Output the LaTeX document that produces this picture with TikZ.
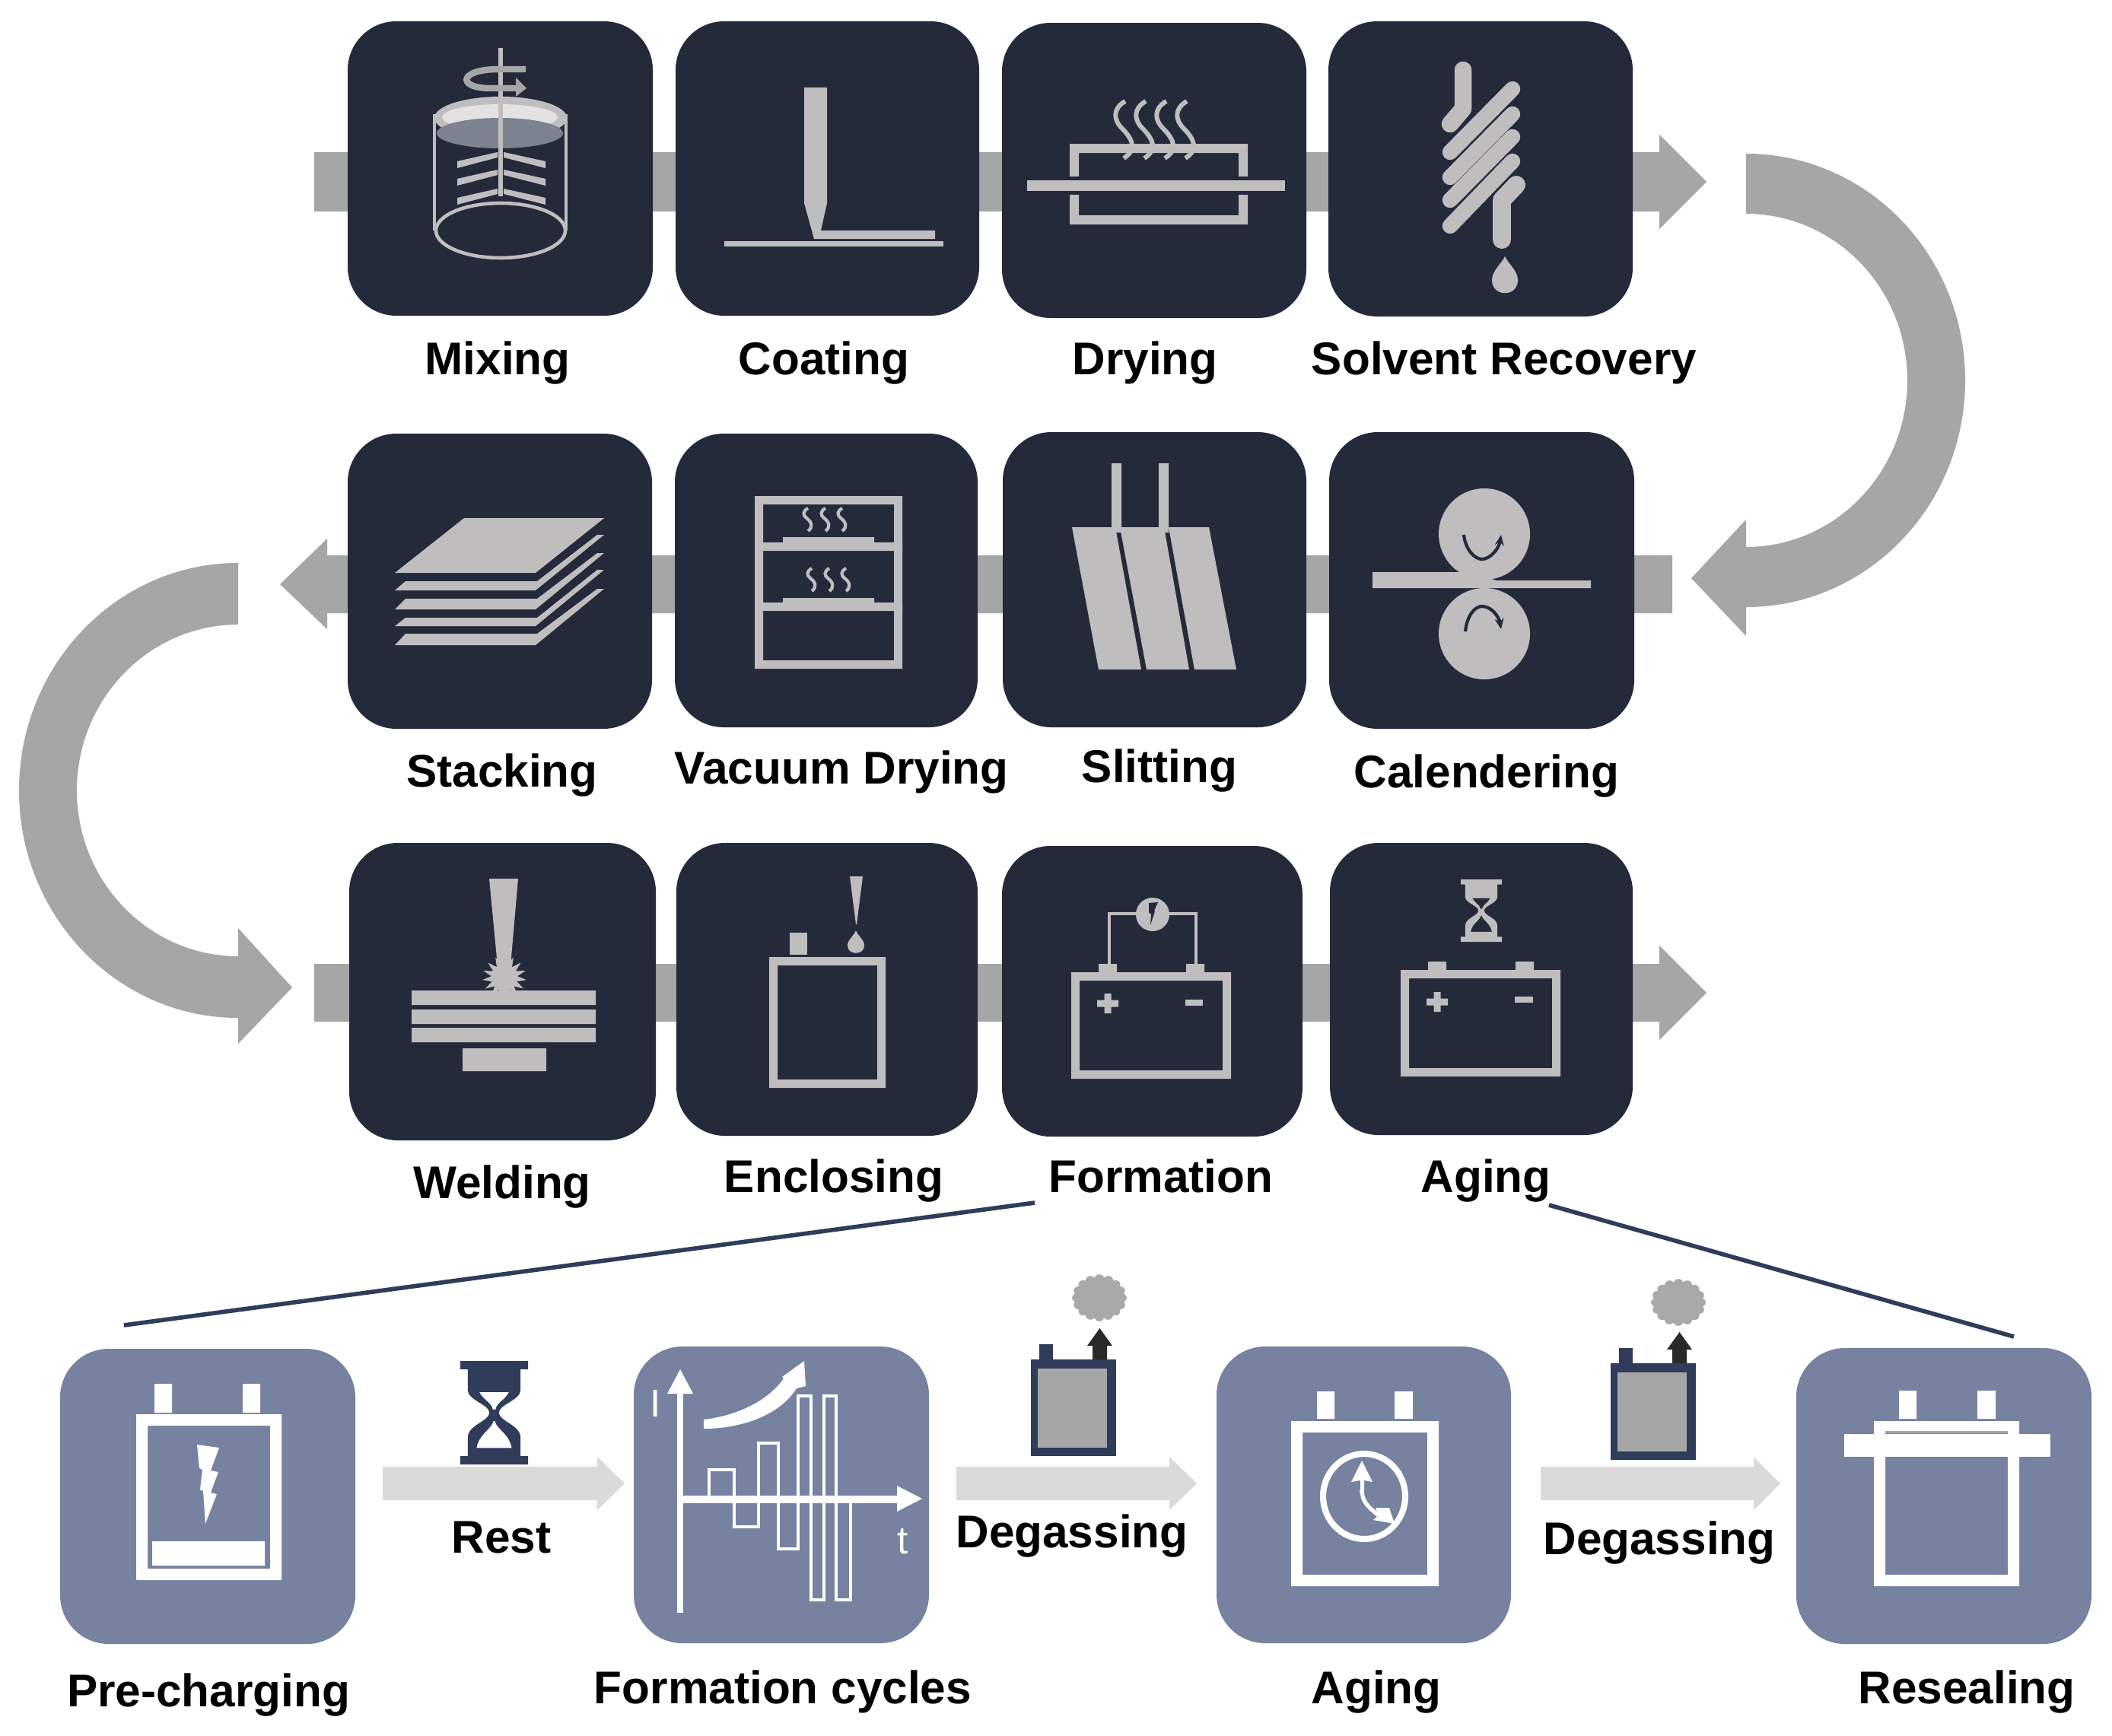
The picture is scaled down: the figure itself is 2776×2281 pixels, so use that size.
\documentclass[tikz,border=0pt]{standalone}
\usepackage{fontspec}
\setmainfont{Liberation Sans}
\usetikzlibrary{arrows.meta,shapes.geometric,shapes.symbols}
\definecolor{tiled}{HTML}{252A3B}
\definecolor{tilel}{HTML}{76829F}
\definecolor{icong}{HTML}{C0BDBE}
\definecolor{bandg}{HTML}{A6A6A6}
\definecolor{lightb}{HTML}{DADADA}
\definecolor{navy}{HTML}{2F3C5A}
\definecolor{smoke}{HTML}{A9A9A9}
\definecolor{blk}{HTML}{2A2A2A}
\definecolor{liquid}{HTML}{7D828F}
\newcommand{\tilebox}[6]{%
  \pgfmathsetmacro\tw{(#5-#3)*0.01}\pgfmathsetmacro\th{(#6-#4)*0.01}%
  \node[tilebase,fill=#2,minimum width=\tw cm,minimum height=\th cm] (#1) at ({(#3+#5)/2},{(#4+#6)/2}) {};}
\newcommand{\frect}[6]{% colour x1 y1 x2 y2 thick
  \fill[#1,even odd rule] (#2,#3) rectangle (#4,#5) ({#2+#6},{#3+#6}) rectangle ({#4-#6},{#5-#6});}
\newcommand{\hglass}[5]{% x y sx sy colour
  \begin{scope}[shift={(#1,#2)},xscale=#3,yscale=#4]
  \fill[#5,even odd rule] (0,0)--(100,0)--(100,8)--(89,8)--(89,28) .. controls (89,38) and (57,42) .. (57,50) .. controls (57,58) and (89,62) .. (89,74) --(89,92)--(100,92)--(100,100)--(0,100)--(0,92)--(11,92)--(11,74) .. controls (11,62) and (43,58) .. (43,50) .. controls (43,42) and (11,38) .. (11,28) --(11,8)--(0,8)--cycle
   (28,30)--(72,30) .. controls (66,38) and (54,40) .. (52,47) -- (48,47) .. controls (46,40) and (34,38) .. (28,30) -- cycle
   (49,58)--(51,58) .. controls (54,66) and (72,70) .. (76,84) -- (24,84) .. controls (28,70) and (46,66) .. (49,58) -- cycle;
  \end{scope}}
\newcommand{\plusm}[3]{\fill[#3] ({#1-14},{#2-4.5}) rectangle ({#1+14},{#2+4.5}) ({#1-4.5},{#2-13}) rectangle ({#1+4.5},{#2+13});}
\tikzset{
  tilebase/.style={rounded corners=0.64cm,inner sep=0pt,outer sep=0pt,draw=none},
  lab/.style={anchor=base,inner sep=0pt,font=\fontsize{17.15}{20}\selectfont\bfseries,text=black},
  axislab/.style={anchor=base,inner sep=0pt,font=\fontsize{14.5}{16}\selectfont,text=white},
  conn/.style={draw=navy,line width=1.6pt},
  puff/.style={cloud,cloud puffs=16,cloud puff arc=140,fill=smoke,draw=none,inner sep=0pt,minimum width=0.72cm,minimum height=0.62cm,aspect=1},
  wav/.style={draw=icong,line width=1.5pt},
}
\begin{document}
\begin{tikzpicture}[x=0.01cm,y=-0.01cm]
\useasboundingbox (0,0) rectangle (2776,2281);
\fill[white] (0,0) rectangle (2776,2281);
% bands
\fill[bandg] (413,200)--(2181,200)--(2181,177)--(2243,239)--(2181,301)--(2181,278)--(413,278)--cycle;
\fill[bandg] (2198,730)--(430,730)--(430,708)--(368,768)--(430,827)--(430,806)--(2198,806)--cycle;
\fill[bandg] (413,1267)--(2181,1267)--(2181,1243)--(2243,1305)--(2181,1367)--(2181,1343)--(413,1343)--cycle;
% curved arrows
\fill[bandg] (2295,202) .. controls (2454,202) and (2583,335) .. (2583,500) .. controls (2583,665) and (2454,798) .. (2295,798) -- (2295,836) -- (2223,760) -- (2295,683) -- (2295,719) .. controls (2412,719) and (2507,621) .. (2507,500) .. controls (2507,379) and (2412,281) .. (2295,281) -- cycle;
\fill[bandg] (313,740) .. controls (154,740) and (25,874) .. (25,1039) .. controls (25,1204) and (154,1338) .. (313,1338) -- (313,1372) -- (384,1298) -- (313,1220) -- (313,1257) .. controls (196,1257) and (101,1159) .. (101,1039) .. controls (101,919) and (196,821) .. (313,821) -- cycle;
% light arrows
\foreach \a/\b/\c in {503/785/821,1257/1537/1573,2025/2305/2340}{
  \fill[lightb] (\a,1928)--(\b,1928)--(\b,1915)--(\c,1950)--(\b,1985)--(\b,1972)--(\a,1972)--cycle;}
% tiles
\tilebox{tmix}{tiled}{457}{28}{858}{415}
\tilebox{tcoat}{tiled}{888}{28}{1287}{415}
\tilebox{tdry}{tiled}{1317}{30}{1717}{418}
\tilebox{tsolv}{tiled}{1746}{28}{2146}{416}
\tilebox{tstack}{tiled}{457}{570}{857}{958}
\tilebox{tvac}{tiled}{887}{570}{1285}{956}
\tilebox{tslit}{tiled}{1318}{568}{1717}{956}
\tilebox{tcal}{tiled}{1747}{568}{2148}{958}
\tilebox{tweld}{tiled}{459}{1108}{862}{1499}
\tilebox{tencl}{tiled}{889}{1108}{1285}{1493}
\tilebox{tform}{tiled}{1317}{1112}{1712}{1494}
\tilebox{tage}{tiled}{1748}{1108}{2146}{1492}
\tilebox{tpre}{tilel}{79}{1773}{467}{2161}
\tilebox{tcyc}{tilel}{833}{1770}{1221}{2160}
\tilebox{tage2}{tilel}{1599}{1770}{1986}{2160}
\tilebox{tres}{tilel}{2361}{1772}{2749}{2161}
% Mixing icon
\draw[icong,line width=1.2pt] (571,150)--(571,303) (744,150)--(744,303);
\draw[icong,line width=1.3pt] (658,303) ellipse [x radius=85,y radius=36];
\fill[icong] (658,155) ellipse [x radius=87,y radius=28];
\fill[white!55!icong] (657,154) ellipse [x radius=76,y radius=17];
\fill[liquid] (657,175) ellipse [x radius=83,y radius=20];
\fill[icong] (655,63) rectangle (661,258);
\foreach \d in {0,23,48}{
  \fill[icong,shift={(0,\d)}] (654,200)--(601,212)--(601,221)--(654,207)--cycle;
  \fill[icong,shift={(0,\d)}] (662,200)--(717,212)--(717,221)--(662,207)--cycle;}
\draw[bandg,line width=2.4pt] (691,91)--(655,91) .. controls (605,91) and (600,114) .. (640,116) -- (682,116);
\fill[bandg] (678,102)--(692,116)--(678,127)--cycle;
% Coating icon
\fill[icong] (1057,115)--(1087,115)--(1087,267)--(1079,303)--(1229,303)--(1229,314)--(1070,314)--(1057,267)--cycle;
\fill[icong] (952,317) rectangle (1240,324);
% Drying icon
\frect{icong}{1406}{189}{1640}{295}{12}
\fill[tiled] (1400,232) rectangle (1646,256);
\fill[icong] (1350,237) rectangle (1689,251);
\foreach \d in {0,27,54,81}{
  \draw[icong,line width=1.7pt,shift={(\d,0)}] (1479,133) .. controls (1462,143) and (1463,158) .. (1476,170) .. controls (1490,185) and (1494,197) .. (1477,208);}
% Solvent icon
\draw[icong,line width=6.4pt,line cap=round,line join=round] (1923,92)--(1923,143)--(1906,163);
\foreach \a/\b in {117/200,150/233,180/263,212/297}{
  \draw[icong,line width=5.8pt,line cap=round] (1988,\a)--(1906,\b);}
\draw[icong,line width=6.8pt,line cap=round,line join=round] (1993,243)--(1974,263)--(1974,315);
\fill[icong] (1978,337) .. controls (1982,346) and (1995,356) .. (1995,368) .. controls (1995,391) and (1961,391) .. (1961,368) .. controls (1961,356) and (1974,346) .. (1978,337) -- cycle;
% Stacking icon
\fill[icong] (610,681)--(794,681)--(704,753)--(519,753)--cycle;
\foreach \a/\b/\c in {776/764/703,801/787/727,823/812/749,848/833/774}{
  \fill[icong] (519,\a)--(533,\b)--(706,\b)--(785,\c)--(794,\c)--(704,\a)--cycle;}
% Vacuum icon
\frect{icong}{992}{652}{1186}{879}{11}
\fill[icong] (992,713) rectangle (1186,724) (992,792) rectangle (1186,803) (1029,706) rectangle (1149,713) (1029,786) rectangle (1149,792);
\foreach \d in {0,23,45}{
  \draw[wav,line width=1.2pt,shift={(\d,0)}] (1062,668) .. controls (1055,672) and (1055,677) .. (1060,681) .. controls (1067,686) and (1069,693) .. (1062,698);
  \draw[wav,line width=1.2pt,shift={(\d+5,79)}] (1062,668) .. controls (1055,672) and (1055,677) .. (1060,681) .. controls (1067,686) and (1069,693) .. (1062,698);}
% Slitting icon
\fill[icong] (1461,609) rectangle (1474,700) (1523,609) rectangle (1536,700);
\fill[icong] (1409,693)--(1466,693)--(1500,880)--(1444,880)--cycle;
\fill[icong] (1472,693)--(1530,693)--(1563,880)--(1507,880)--cycle;
\fill[icong] (1536,693)--(1589,693)--(1625,880)--(1570,880)--cycle;
% Calendering icon
\fill[icong] (1951,702) circle [radius=60];
\fill[icong] (1951,833) circle [radius=60];
\fill[icong] (1804,752)--(1930,752)--(1967,763)--(2091,763)--(2091,773)--(1804,773)--cycle;
\draw[tiled,line width=1.2pt,-{Stealth[length=4pt,width=3.4pt]}] (1924,703) .. controls (1926,722) and (1938,735) .. (1948,735) .. controls (1958,735) and (1970,722) .. (1973,703);
\draw[tiled,line width=1.2pt,-{Stealth[length=4pt,width=3.4pt]}] (1926,830) .. controls (1928,810) and (1938,797) .. (1948,797) .. controls (1960,797) and (1970,810) .. (1973,827);
% Welding icon
\fill[icong] (541,1302) rectangle (783,1321) (541,1327) rectangle (783,1346) (541,1351) rectangle (783,1370) (608,1378) rectangle (718,1408);
\node[star,star points=15,star point ratio=1.7,fill=icong,inner sep=0pt,minimum size=0.58cm] (burst) at (663,1285) {};
\fill[icong] (643,1155)--(681,1155)--(671,1270)--(654,1270)--cycle;
% Enclosing icon
\frect{icong}{1011}{1258}{1164}{1430}{11}
\fill[icong] (1038,1226) rectangle (1061,1255);
\fill[icong] (1117,1152)--(1134,1152)--(1126,1215)--(1125,1215)--cycle;
\fill[icong] (1125,1223) .. controls (1128,1231) and (1136,1235) .. (1136,1243) .. controls (1136,1256) and (1114,1256) .. (1114,1243) .. controls (1114,1235) and (1122,1231) .. (1125,1223) -- cycle;
% Formation icon
\frect{icong}{1408}{1278}{1618}{1418}{11}
\fill[icong] (1444,1267) rectangle (1468,1278) (1559,1267) rectangle (1583,1278);
\draw[icong,line width=1.2pt] (1458,1267)--(1458,1201)--(1572,1201)--(1572,1267);
\fill[icong] (1515,1202) circle [radius=22];
\fill[tiled] (1510,1187)--(1522,1186)--(1517,1197)--(1518,1198)--(1512,1216)--(1513,1201)--(1510,1200)--cycle;
\plusm{1456}{1319}{icong}
\fill[icong] (1558,1314) rectangle (1581,1322);
% Aging icon
\frect{icong}{1841}{1275}{2051}{1415}{11}
\fill[icong] (1877,1264) rectangle (1901,1275) (1992,1264) rectangle (2016,1275);
\plusm{1889}{1317}{icong}
\fill[icong] (1991,1310) rectangle (2015,1318);
\hglass{1920}{1156}{0.54}{0.82}{icong}
% Pre-charging icon
\frect{white}{179}{1859}{370}{2077}{15}
\fill[white] (203,1819) rectangle (226,1857) (319,1819) rectangle (342,1857) (200,2026) rectangle (348,2058);
\fill[white] (259,1899)--(288,1903)--(277,1933)--(287,1935)--(277,1962)--(285,1964)--(270,2003)--(267,1960)--(263,1958)--(266,1932)--(262,1930)--cycle;
% Rest hourglass
\hglass{605}{1789}{0.89}{1.36}{navy}
% Formation cycles icon
\fill[white] (890,2120) rectangle (898,1830);
\fill[white] (877,1832)--(894,1800)--(911,1832)--cycle;
\fill[white] (894,1966) rectangle (1180,1976);
\fill[white] (1179,1953)--(1212,1970)--(1179,1987)--cycle;
\draw[white,line width=1pt,line join=miter] (932,1970)--(932,1932)--(965,1932)--(965,2007)--(997,2007)--(997,1897)--(1023,1897)--(1023,2036)--(1049,2036)--(1049,1835)--(1066,1835)--(1066,2103)--(1083,2103)--(1083,1835)--(1099,1835)--(1099,2103)--(1118,2103)--(1118,1970);
\fill[white] (925,1866) .. controls (975,1860) and (1012,1838) .. (1030,1812) -- (1028,1810) -- (1057,1789) -- (1059,1822) -- (1047,1825) .. controls (1025,1860) and (975,1878) .. (925,1878) -- cycle;
\node[axislab] (ylab) at (862,1862) {I};
\node[axislab] (xlab) at (1187,2042) {t};
% Degassing batteries
\foreach \dx/\dy in {0/0,762/5}{
 \begin{scope}[shift={(\dx,\dy)}]
  \fill[navy] (1355,1787) rectangle (1467,1914);
  \fill[bandg] (1364,1799) rectangle (1455,1903);
  \fill[navy] (1366,1767) rectangle (1384,1787);
  \fill[blk] (1436,1787) rectangle (1455,1768) (1429,1769)--(1445.5,1746)--(1462,1769)--cycle;
 \end{scope}}
\node[puff] (smoke1) at (1445,1706) {};
\node[puff] (smoke2) at (2206,1712) {};
% Aging light icon
\frect{white}{1697}{1868}{1891}{2085}{15}
\fill[white] (1731,1829) rectangle (1754,1865) (1833,1829) rectangle (1857,1865);
\draw[white,line width=2.3pt] (1793,1967) ellipse [x radius=54,y radius=56];
\fill[white] (1790,1920)--(1804,1948)--(1793,1946)--(1793,1960)--(1788,1960)--(1788,1946)--(1776,1948)--cycle;
\draw[white,line width=1.5pt] (1790,1958) .. controls (1790,1975) and (1800,1982) .. (1812,1992);
\fill[white] (1833,2003)--(1805,1998)--(1812,1992)--(1808,1982)--(1826,1982)--cycle;
% Resealing icon
\frect{white}{2463}{1868}{2654}{2085}{15}
\fill[white] (2496,1828) rectangle (2519,1865) (2599,1828) rectangle (2623,1865);
\fill[bandg] (2478,1881) rectangle (2639,1883.5);
\fill[white] (2424,1885) rectangle (2695,1915);
% labels
\node[lab] (lmix) at (654,492) {Mixing};
\node[lab] (lcoat) at (1083,492) {Coating};
\node[lab] (ldry) at (1505,492) {Drying};
\node[lab] (lsolv) at (1977,492) {Solvent Recovery};
\node[lab] (lstack) at (660,1034) {Stacking};
\node[lab] (lvac) at (1106,1030) {Vacuum Drying};
\node[lab] (lslit) at (1524,1028) {Slitting};
\node[lab] (lcal) at (1954,1035) {Calendering};
\node[lab] (lweld) at (660,1575) {Welding};
\node[lab] (lencl) at (1096,1567) {Enclosing};
\node[lab] (lform) at (1526,1567) {Formation};
\node[lab] (lage) at (1953,1567) {Aging};
\node[lab] (lpre) at (274,2243) {Pre-charging};
\node[lab] (lcyc) at (1029,2239) {Formation cycles};
\node[lab] (lage2) at (1809,2239) {Aging};
\node[lab] (lres) at (2585,2239) {Resealing};
\node[lab] (lrest) at (659,2041) {Rest};
\node[lab] (ldeg1) at (1409,2034) {Degassing};
\node[lab] (ldeg2) at (2181,2043) {Degassing};
% connectors
\coordinate (fa) at (1360,1581);
\coordinate (fb) at (163,1742);
\coordinate (aa) at (2036,1584);
\coordinate (ab) at (2647,1757);
\draw[conn] (fa) -- (fb);
\draw[conn] (aa) -- (ab);
\end{tikzpicture}
\end{document}
